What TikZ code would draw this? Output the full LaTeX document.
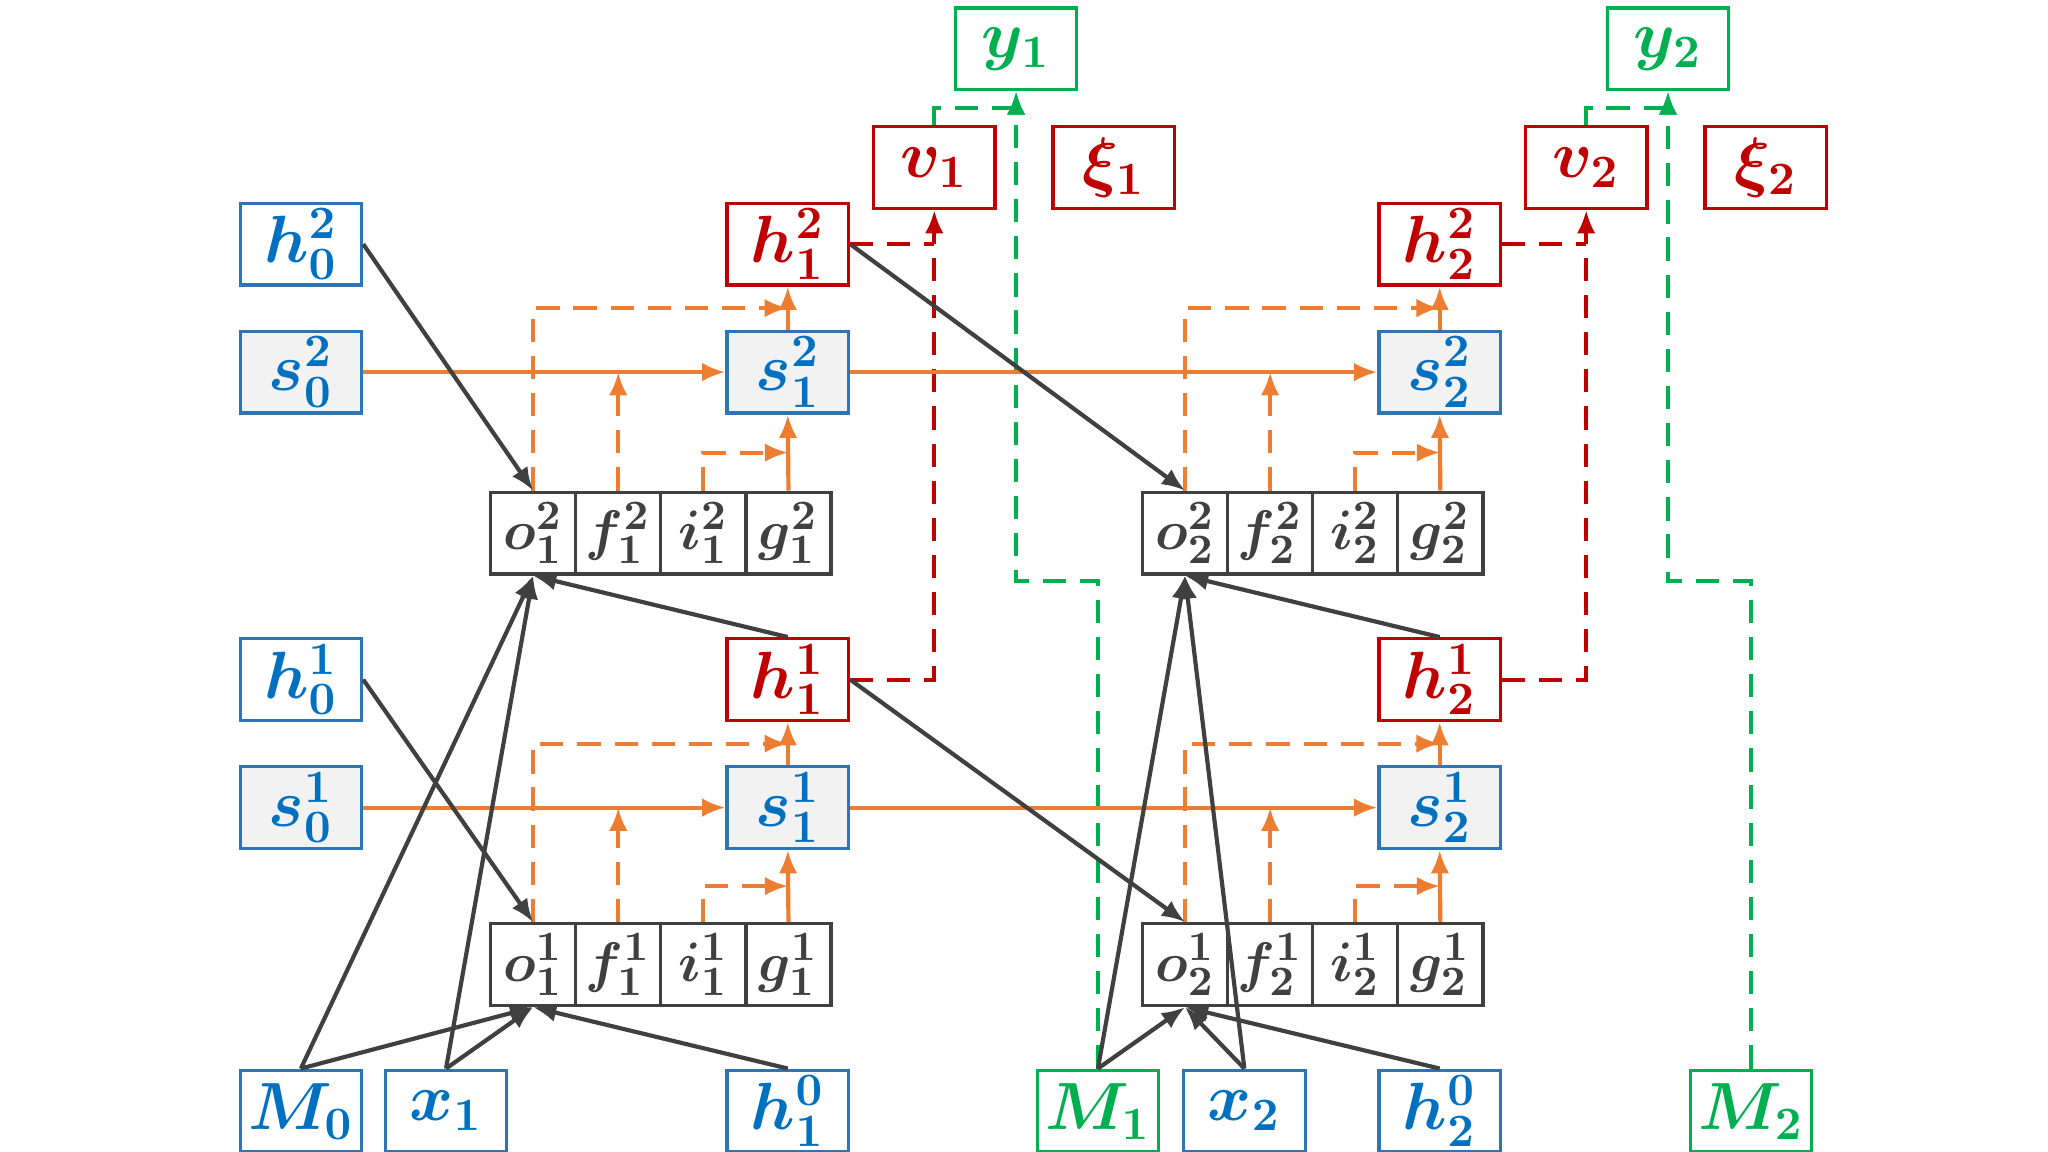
\documentclass[tikz,border=0pt]{standalone}
\usepackage{bm}
\usetikzlibrary{arrows.meta,calc}
\definecolor{cb}{HTML}{0070C0}\definecolor{cbb}{HTML}{2E75B6}
\definecolor{cr}{HTML}{C00000}\definecolor{cg}{HTML}{00B050}
\definecolor{co}{HTML}{ED7D31}\definecolor{ck}{HTML}{404040}
\begin{document}
\begin{tikzpicture}[x=0.01cm,y=-0.01cm,
 box/.style={draw,line width=0.7pt,minimum width=0.92cm,minimum height=0.62cm,inner sep=0pt,font=\fontsize{14}{16}\selectfont},
 bb/.style={box,draw=cbb,text=cb},
 sb/.style={bb,fill=black!5},
 rb/.style={box,draw=cr,text=cr},
 gb/.style={box,draw=cg,text=cg},
 cell/.style={draw=ck,line width=0.7pt,minimum width=0.645cm,minimum height=0.62cm,inner sep=0pt,text=ck,font=\fontsize{13}{15}\selectfont},
 ar/.style={-{Latex[length=5pt,width=4pt]}},
 kl/.style={ar,draw=ck,line width=0.9pt},
 ol/.style={ar,draw=co,line width=0.9pt},
 od/.style={ol,dashed,dash pattern=on 5pt off 3pt},
 rd/.style={ar,draw=cr,line width=0.9pt,dash pattern=on 5pt off 3pt},
 gd/.style={ar,draw=cg,line width=0.9pt,dash pattern=on 5pt off 3pt}]
\useasboundingbox (0,0) rectangle (1552,873);
\node[bb] (hA0) at (228,185) {$\bm{h}^{\bm 2}_{\bm 0}$};
\node[sb] (sA0) at (228,282) {$\bm{s}^{\bm 2}_{\bm 0}$};
\node[bb] (hB0) at (228,515) {$\bm{h}^{\bm 1}_{\bm 0}$};
\node[sb] (sB0) at (228,612) {$\bm{s}^{\bm 1}_{\bm 0}$};
\node[bb] (M0) at (228,842) {$\bm{M}_{\bm 0}$};
\node[bb] (x1) at (338,842) {$\bm{x}_{\bm 1}$};
\node[gb] (M1) at (832,842) {$\bm{M}_{\bm 1}$};
\node[bb] (x2) at (943,842) {$\bm{x}_{\bm 2}$};
\node[gb] (M2) at (1327,842) {$\bm{M}_{\bm 2}$};
\foreach \c/\dx in {1/0,2/494}{
 \pgfmathtruncatemacro\p{\c-1}
 \node[rb] (hA\c) at (597+\dx,185) {$\bm{h}^{\bm 2}_{\bm \c}$};
 \node[sb] (sA\c) at (597+\dx,282) {$\bm{s}^{\bm 2}_{\bm \c}$};
 \node[rb] (hB\c) at (597+\dx,515) {$\bm{h}^{\bm 1}_{\bm \c}$};
 \node[sb] (sB\c) at (597+\dx,612) {$\bm{s}^{\bm 1}_{\bm \c}$};
 \node[bb] (hz\c) at (597+\dx,842) {$\bm{h}^{\bm 0}_{\bm \c}$};
 \node[rb] (v\c) at (708+\dx,127) {$\bm{v}_{\bm \c}$};
 \node[rb] (xi\c) at (844+\dx,127) {$\bm{\xi}_{\bm \c}$};
 \node[gb] (y\c) at (770+\dx,37) {$\bm{y}_{\bm \c}$};
 \foreach \L/\yy/\n in {A/404/2,B/731/1}{
  \node[cell] (o\L\c) at (404+\dx,\yy) {$\bm{o}^{\bm \n}_{\bm \c}$};
  \node[cell] (f\L\c) at (468.5+\dx,\yy) {$\bm{f}^{\bm \n}_{\bm \c}$};
  \node[cell] (i\L\c) at (533+\dx,\yy) {$\bm{i}^{\bm \n}_{\bm \c}$};
  \node[cell] (g\L\c) at (597.5+\dx,\yy) {$\bm{g}^{\bm \n}_{\bm \c}$};
  \draw[ol] (s\L\p) -- (s\L\c);
  \draw[ol] (s\L\c) -- (h\L\c);
  \draw[ol] (g\L\c.north) -- (s\L\c.south);
  \coordinate (m1\L\c) at ($(s\L\c.north)!0.5!(h\L\c.south)$);
  \coordinate (m2\L\c) at ($(s\L\c.south)!0.5!(g\L\c.north)$);
  \draw[od] (o\L\c.north) |- (m1\L\c);
  \draw[od] (i\L\c.north) |- (m2\L\c);
  \draw[od] (f\L\c.north) -- (f\L\c.north |- s\L\c);
  \draw[kl] (h\L\p.east) -- (o\L\c.north);
 }
 \draw[kl] (M\p.north) -- (oA\c.south);
 \draw[kl] (x\c.north) -- (oA\c.south);
 \draw[kl] (hB\c.north) -- (oA\c.south);
 \draw[kl] (M\p.north) -- (oB\c.south);
 \draw[kl] (x\c.north) -- (oB\c.south);
 \draw[kl] (hz\c.north) -- (oB\c.south);
 \draw[rd,-] (hA\c.east) -- (hA\c.east -| v\c.south);
 \draw[rd] (hB\c.east) -| (v\c.south);
 \draw[gd] (v\c.north) |- (y\c.south |- 0,82) -- (y\c.south);
 \draw[gd] (M\c.north) |- (y\c.south |- 0,440) -- (y\c.south);
}
\end{tikzpicture}
\end{document}
